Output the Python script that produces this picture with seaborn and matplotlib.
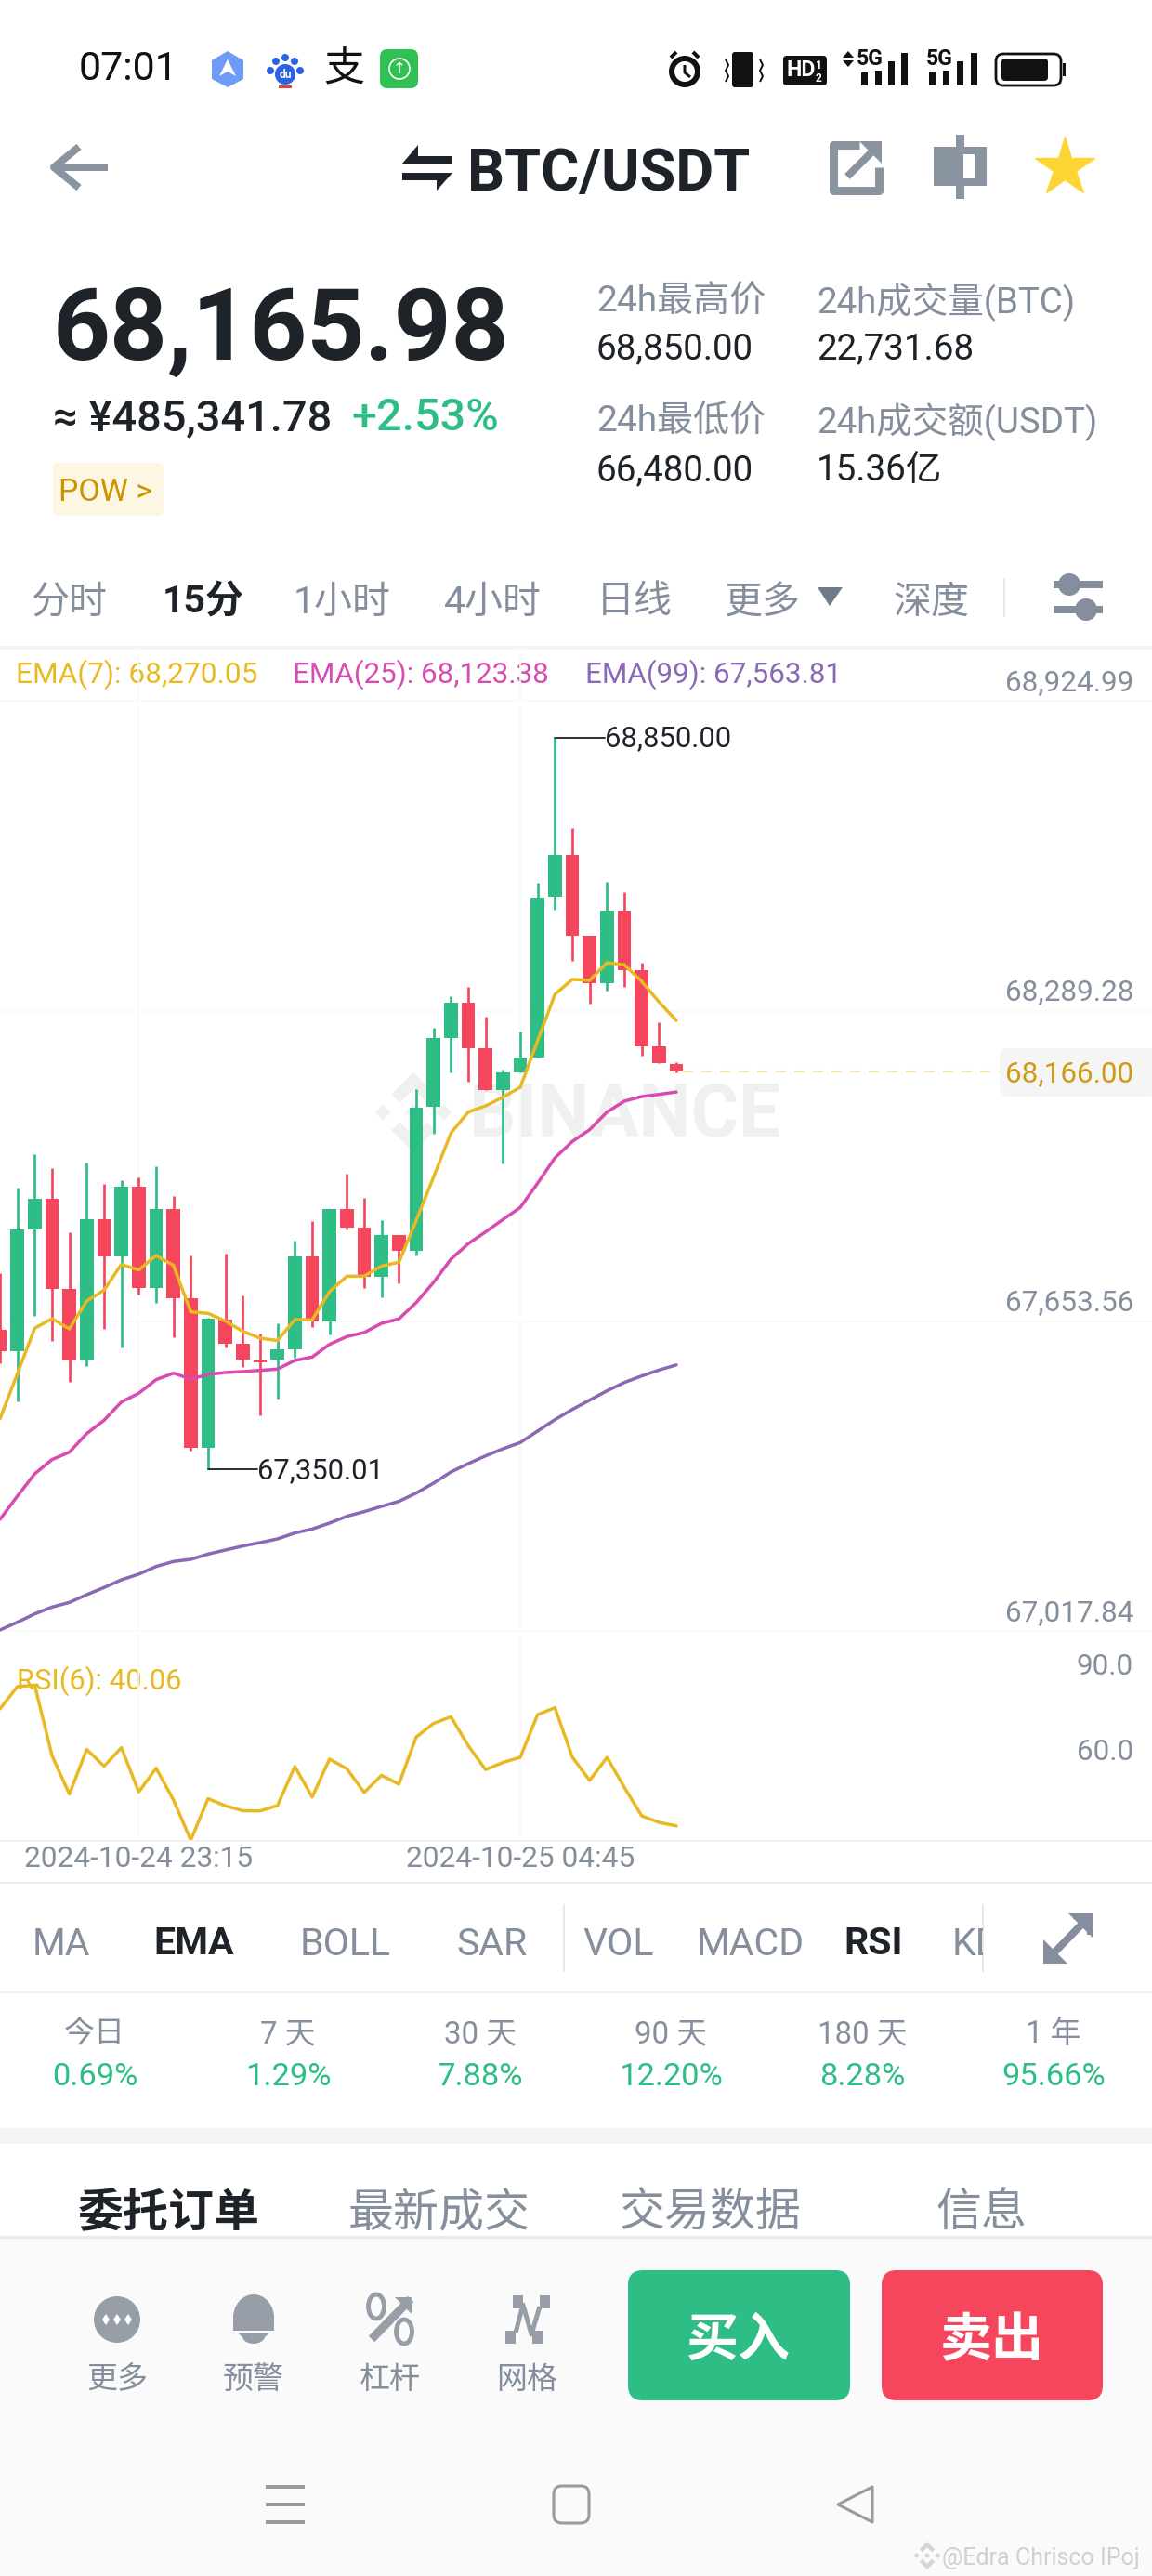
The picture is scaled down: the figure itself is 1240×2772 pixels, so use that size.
import numpy as np
import pandas as pd
import matplotlib
matplotlib.use("Agg")
import matplotlib.pyplot as plt
import seaborn as sns
from matplotlib.patches import Rectangle, Polygon, Circle, FancyBboxPatch, Ellipse

# ---------- data ----------
candle_top = [67635.9,67842.3,67904.5,67904.5,67720.3,67862.0,67862.0,67928.6,67928.6,67882.9,67882.9,67700.7,67658.1,67656.8,67606.7,67573.0,67595.9,67787.0,67787.0,67884.2,67884.2,67844.8,67830.8,67830.8,68091.8,68234.6,68307.0,68307.0,68212.4,68164.2,68193.4,68522.3,68608.7,68608.7,68442.9,68494.4,68494.4,68373.1,68217.5,68181.3]
candle_bot = [67592.1,67592.1,67842.3,67720.3,67572.4,67572.4,67785.8,67785.8,67721.6,67721.6,67700.7,67394.6,67394.6,67606.7,67574.3,67568.6,67574.3,67595.9,67653.7,67653.7,67844.8,67743.8,67743.8,67797.8,67797.8,68093.0,68234.6,68212.4,68128.0,68128.0,68164.2,68194.6,68523.6,68442.9,68345.8,68345.8,68373.1,68217.5,68181.9,68166.0]
highs = [67752.1,67927.4,67995.9,67968.0,67836.6,67978.0,67934.3,67942.0,67948.3,67970.5,67909.6,67788.9,67661.3,67792.1,67706.4,67628.3,67649.2,67818.8,67858.8,67884.2,67956.6,67906.4,67860.0,67830.8,68129.9,68255.0,68319.7,68338.8,68277.8,68169.9,68247.3,68551.5,68850.00,68664.5,68442.9,68554.1,68532.5,68387.7,68266.4,68183.8]
lows = [67567.9,67489.8,67664.5,67613.7,67529.8,67561.6,67638.4,67600.3,67707.6,67691.8,67620.0,67388.9,67350.01,67600.3,67559.7,67460.0,67495.6,67579.4,67642.2,67627.0,67841.6,67722.2,67703.2,67731.7,67788.9,68038.4,68163.6,68143.8,68128.0,67976.8,68164.2,68194.6,68496.9,68392.8,68303.9,68331.2,68338.8,68198.5,68181.9,68164.2]
is_up = [0,1,1,0,0,1,0,1,0,1,0,0,1,0,0,0,1,1,0,1,0,0,1,0,1,1,1,0,0,1,1,1,1,0,0,1,0,0,0,0]
ema7 = [67453.6,67545.7,67639.1,67658.8,67637.8,67694.9,67717.2,67769.9,67758.4,67788.3,67768.0,67672.7,67669.5,67653.7,67632.7,67618.7,67613.7,67656.8,67656.2,67714.0,67745.7,67745.7,67766.6,67774.3,67860.0,67948.9,68039.1,68082.2,68094.9,68112.7,68133.0,68228.3,68323.6,68354.1,68352.1,68388.3,68384.0,68350.2,68307.7,68270.05]
ema25 = [67247.2,67294.9,67340.6,67369.8,67385.0,67423.1,67450.4,67487.9,67505.7,67533.6,67546.9,67534.9,67544.4,67548.2,67550.1,67552.7,67555.2,67573.0,67580.0,67606.0,67621.9,67630.2,67649.2,67658.1,67691.7,67733.0,67780.6,67812.4,67836.6,67861.9,67886.7,67936.2,67988.3,68021.9,68046.1,68082.2,68104.5,68114.0,68118.4,68123.38]
ema99 = [67020.5,67036.4,67053.5,67067.5,67077.0,67092.9,67107.5,67123.4,67134.9,67150.7,67160.9,67165.3,67176.1,67184.4,67192.6,67199.6,67207.2,67219.3,67227.5,67239.6,67253.6,67263.1,67273.9,67284.1,67301.2,67321.5,67344.4,67361.5,67377.4,67392.0,67404.7,67428.2,67451.7,67472.6,67491.7,67510.7,67527.9,67541.2,67553.3,67563.81]
rsi6 = [81.1,88.9,89.4,64.7,51.2,66.9,61.0,67.5,52.0,60.3,49.2,35.1,49.6,47.1,45.4,45.3,47.2,60.9,50.2,63.5,60.1,51.8,57.8,54.7,71.2,76.0,78.3,68.2,59.8,62.3,64.1,79.1,81.5,64.2,56.0,64.1,53.6,43.6,41.3,40.06]
price_ticks = [68924.99, 68289.28, 67653.56, 67017.84]
last_price = 68166.00
high_price = 68850.00
low_price = 67350.01
rsi_ticks = [90.0, 60.0]
time_ticks = [8, 30]
time_labels = ["2024-10-24 23:15", "2024-10-25 04:45"]
tab_labels = ["分时", "15分", "1小时", "4小时", "日线", "更多", "深度"]
indicator_labels = ["MA", "EMA", "BOLL", "SAR", "VOL", "MACD", "RSI"]
period_labels = ["今日", "7 天", "30 天", "90 天", "180 天", "1 年"]
period_values = ["0.69%", "1.29%", "7.88%", "12.20%", "8.28%", "95.66%"]
section_labels = ["委托订单", "最新成交", "交易数据", "信息"]
tool_labels = ["更多", "预警", "杠杆", "网格"]

df = pd.DataFrame({"i": np.arange(len(ema7)), "ema7": ema7, "ema25": ema25, "ema99": ema99, "rsi": rsi6})

# ---------- style ----------
sns.set_theme(style="white")
FONT = ["Roboto", "Noto Sans CJK SC", "DejaVu Sans"]
CJK = ["Noto Sans CJK SC", "DejaVu Sans"]
plt.rcParams["font.family"] = FONT
GREEN, RED, DARK, GRAY = "#2ebd85", "#f6465d", "#1e2329", "#848e9c"
YEL, PINK, PUR = "#e8b923", "#d84bb0", "#8b68b5"
GRID = "#f8f9f9"
LW = 3.5 * 0.72

W, H = 1240, 2772
fig = plt.figure(figsize=(W / 100, H / 100), dpi=100, facecolor="white")
ui = fig.add_axes([0, 0, 1, 1], zorder=0)
ui.set_xlim(0, W); ui.set_ylim(H, 0); ui.axis("off")

def T(x, y, s, px, color=DARK, ha="left", weight="normal", family=None, ax=ui, **kw):
    y += 3
    if ha == "left":
        x -= 3
    return ax.text(x, y, s, fontsize=px * 0.72, color=color, ha=ha, va="center",
                   fontweight=weight, family=family or FONT, **kw)
def R(x0, y0, x1, y1, color, **kw):
    ui.add_patch(Rectangle((x0, y0), x1 - x0, y1 - y0, fc=color, ec="none", **kw))
def RR(x0, y0, x1, y1, color, r=8, ec="none", lw=0):
    ui.add_patch(FancyBboxPatch((x0 + r, y0 + r), x1 - x0 - 2 * r, y1 - y0 - 2 * r,
                 boxstyle=f"round,pad={r},rounding_size={r}", fc=color, ec=ec, lw=lw))
def P(pts, color, **kw):
    ui.add_patch(Polygon(pts, closed=True, fc=color, ec="none", **kw))
def L(xs, ys, color, lw=3, **kw):
    ui.plot(xs, ys, color=color, lw=lw * 0.72, solid_capstyle=kw.pop("cap", "butt"), **kw)
def logo(cx, cy, r, color):
    for sy in (-1, 1):
        P([(cx, cy + sy * r), (cx + .55 * r, cy + sy * .45 * r), (cx + .34 * r, cy + sy * .24 * r),
           (cx, cy + sy * .58 * r), (cx - .34 * r, cy + sy * .24 * r), (cx - .55 * r, cy + sy * .45 * r)], color)
    for dx in (-.76, 0, .76):
        q = cx + dx * r
        P([(q, cy - .2 * r), (q + .2 * r, cy), (q, cy + .2 * r), (q - .2 * r, cy)], color)

# ---------- status bar ----------
T(88, 72, "07:01", 43, "#111111")
P([(245, 55), (262, 65), (262, 85), (245, 94), (228, 85), (228, 65)], "#6f9bf6")
P([(245, 64), (254, 82), (245, 77), (236, 82)], "white")
for cx, cy, r in [(297, 66, 4), (317, 66, 4), (307, 62, 4), (291, 76, 4), (323, 76, 4)]:
    ui.add_patch(Circle((cx, cy), r, fc="#2a62e6", ec="none"))
ui.add_patch(Ellipse((307, 80), 22, 22, fc="#2a62e6", ec="none"))
T(307, 78, "du", 12, "white", ha="center", weight="bold")
R(300, 92, 314, 95, "#e04040")
T(370, 71, "支", 44, "#111111", ha="center", family=CJK)
RR(409, 53, 450, 95, "#2fc252", r=8)
ui.add_patch(Circle((430, 74), 11, fc="none", ec="white", lw=1.2))
T(430, 71, "↑", 17, "white", ha="center", family=["DejaVu Sans"])
# alarm
ui.add_patch(Circle((737, 77), 17, fc="#111111", ec="none"))
ui.add_patch(Circle((737, 77), 11, fc="white", ec="none"))
L([737, 737, 743], [70, 78, 83], "#111111", 3)
L([722, 728], [62, 56], "#111111", 4); L([752, 746], [62, 56], "#111111", 4)
# vibrate
RR(788, 56, 811, 94, "#111111", r=3)
for x0 in (781, 818):
    L([x0, x0 + 3, x0, x0 + 3, x0], [64, 70, 76, 82, 88], "#111111", 2)
# HD
RR(843, 60, 890, 92, "#111111", r=4)
T(850, 73, "HD", 23, "white", weight="bold")
T(881, 67, "1", 12, "white", weight="bold"); T(881, 81, "2", 12, "white", weight="bold")
# signal
for lab_x, bars in ((922, (930, 945, 959, 973)), (997, (1003, 1018, 1033, 1048))):
    T(lab_x + 3, 60, "5G", 23, "#111111", weight="bold")
    for bx, top in zip(bars, (78, 76, 66, 57)):
        R(bx - 3.5, top, bx + 3.5, 92, "#111111")
P([(907, 62), (913, 55), (919, 62)], "#111111"); P([(907, 65), (913, 72), (919, 65)], "#111111")
RR(1072, 58, 1142, 92, "white", r=8, ec="#111111", lw=2)
RR(1078, 63, 1128, 87, "#111111", r=4)
R(1144, 68, 1147, 82, "#111111")

# ---------- header ----------
L([116, 62], [180, 180], "#8a93a0", 8)
L([85, 58, 85], [158, 180, 202], "#8a93a0", 8)
P([(433, 176), (450, 156), (450, 168), (487, 168), (487, 176)], DARK)
P([(433, 186), (487, 186), (470, 205), (470, 194), (433, 194)], DARK)
T(506, 185, "BTC/USDT", 63, DARK, weight="bold")
# share
L([925, 897, 897, 946, 946], [156, 156, 205, 205, 180], "#8a93a0", 9)
L([912, 945], [190, 157], "#8a93a0", 8)
P([(925, 152), (949, 152), (949, 176)], "#8a93a0")
# candle
R(1005, 158, 1062, 200, "#8a93a0"); R(1029, 145, 1038, 214, "#8a93a0")
R(1037, 166, 1049, 192, "white")
ui.plot([1146], [180], marker="*", ms=48, color="#fcd535", mec="#fcd535")

T(60, 354, "68,165.98", 108, DARK, weight="bold")
T(60, 447, "≈ ¥485,341.78", 47, DARK, weight="medium")
T(381, 447, "+2.53%", 48.5, GREEN, weight="medium")
RR(57, 498, 176, 555, "#fdf6e3", r=6)
T(66, 527, "POW >", 34, "#c99400")
for x, y, s, c, px in [(645, 322, "24h最高价", GRAY, 39), (645, 373, "68,850.00", DARK, 38.5),
                       (645, 451, "24h最低价", GRAY, 39), (645, 504, "66,480.00", DARK, 38.5),
                       (882, 322, "24h成交量(BTC)", GRAY, 38.5), (882, 373, "22,731.68", DARK, 38.5),
                       (882, 451, "24h成交额(USDT)", GRAY, 38.5), (882, 504, "15.36亿", DARK, 38.5)]:
    T(x, y, s, px, c)

# ---------- timeframe tabs ----------
for x, s in zip([36, 178, 319, 481, 645, 782, 964], tab_labels):
    active = s == "15分"
    T(x, 645, s, 41, DARK if active else GRAY, weight="bold" if active else "normal")
P([(880, 632), (907, 632), (893, 652)], "#707a8a")
R(1080, 622, 1082, 664, "#e6e8ea")
R(1134, 625, 1187, 633, GRAY); R(1134, 652, 1187, 660, GRAY)
ui.add_patch(Circle((1151, 629), 12, fc=GRAY, ec="none")); ui.add_patch(Circle((1169, 656), 12, fc=GRAY, ec="none"))
R(0, 695, W, 699, "#f5f5f5")
T(20, 723, "EMA(7): 68,270.05", 31.6, YEL)
T(318, 723, "EMA(25): 68,123.38", 31.4, PINK)
T(633, 723, "EMA(99): 67,563.81", 31.4, PUR)

# watermark
logo(445, 1197, 43, "#eff1f1")
T(508, 1198, "BINANCE", 79, "#eff1f1", weight="bold")

# ---------- main price pane ----------
PX_PER_I = 18.667
def pane(top, bottom, ylim):
    a = fig.add_axes([0, 1 - bottom / H, 1, (bottom - top) / H], zorder=2)
    a.patch.set_alpha(0)
    a.set_xlim(0, W / PX_PER_I); a.set_ylim(*ylim)
    for s in a.spines.values():
        s.set_visible(False)
    return a

ax = pane(697, 1756, (67016.7, 69034.1))
ax.set_yticks(price_ticks); ax.set_xticks(time_ticks)
ax.tick_params(length=0, labelleft=False, labelbottom=False)
ax.grid(True, color=GRID, lw=1.2)
ax.set_axisbelow(True)
x_idx = df["i"].to_numpy()
wick_c = [GREEN if u else RED for u in is_up]
ax.vlines(x_idx, lows, highs, colors=wick_c, lw=2.7 * 0.72, zorder=3)
tops, bots = np.array(candle_top), np.array(candle_bot)
ax.bar(x_idx, tops - bots, bottom=bots, width=0.8, color=wick_c, lw=0, zorder=3)
for col, c, z in (("ema99", PUR, 4), ("ema25", PINK, 5), ("ema7", YEL, 6)):
    sns.lineplot(data=df, x="i", y=col, ax=ax, color=c, lw=LW, errorbar=None, estimator=None, zorder=z)
ax.set_xlim(0, W / PX_PER_I); ax.set_ylim(67016.7, 69034.1)
ax.set_xlabel(""); ax.set_ylabel("")
# leaders
ax.plot([32, 34.85], [high_price, high_price], color="#2b2f36", lw=1.4, zorder=7)
ax.plot([12, 14.85], [low_price, low_price], color="#2b2f36", lw=1.4, zorder=7)
for i_end, p in ((34.85, high_price), (14.85, low_price)):
    ax.annotate(f"{p:,.2f}", xy=(i_end, p), xytext=(0, -1), textcoords="offset points",
                ha="left", va="center", fontsize=31 * .72, color=DARK)
# last price
ax.plot([39.4, 1076 / PX_PER_I], [last_price, last_price], color="#f0dfae", lw=1.6, dashes=(5, 4), zorder=2)
RR(1076, 1128, 1244, 1180, "#f5f5f5", r=10)
ax.annotate(f"{last_price:,.2f}", xy=(1, last_price), xycoords=("axes fraction", "data"),
            xytext=(-20 * .72, -3 * .72), textcoords="offset points", ha="right", va="center",
            fontsize=31.5 * .72, color="#d09a12")
for p in price_ticks:
    ax.annotate(f"{p:,.2f}", xy=(1, p), xycoords=("axes fraction", "data"),
                xytext=(-20 * .72, 20 * .72), textcoords="offset points", ha="right", va="center",
                fontsize=31.5 * .72, color=GRAY)

# ---------- RSI pane ----------
ax2 = pane(1756, 1981, (34.8, 108.1))
ax2.spines["bottom"].set_visible(True); ax2.spines["bottom"].set_color("#f1f2f3"); ax2.spines["bottom"].set_linewidth(1.5)
sns.lineplot(data=df, x="i", y="rsi", ax=ax2, color=YEL, lw=LW, errorbar=None, estimator=None, clip_on=False)
ax2.set_xlim(0, W / PX_PER_I); ax2.set_ylim(34.8, 108.1)
ax2.set_xlabel(""); ax2.set_ylabel("")
ax2.set_yticks([])
ax2.set_xticks(time_ticks); ax2.set_xticklabels(time_labels, fontsize=31.6 * .72, color=GRAY)
ax2.tick_params(axis="x", length=0, pad=3.5)
ax2.grid(True, axis="x", color=GRID, lw=1.2)
ax2.set_axisbelow(True)
for v in rsi_ticks:
    ax2.annotate(f"{v:.1f}", xy=(1, v), xycoords=("axes fraction", "data"),
                 xytext=(-20 * .72, 18 * .72), textcoords="offset points", ha="right", va="center",
                 fontsize=31.5 * .72, color=GRAY)
T(21, 1806, "RSI(6): 40.06", 31, YEL)

# ---------- indicator row ----------
R(0, 2025, W, 2027, "#eceef0")
for x, s in zip([38, 168, 326, 494, 630, 753, 911], indicator_labels):
    active = s in ("EMA", "RSI")
    T(x, 2089, s, 41, DARK if active else GRAY, weight="bold" if active else "normal")
kt = T(1028, 2089, "KDJ", 41, GRAY)
clip = Rectangle((1020, 2050), 38, 75, transform=ui.transData)
kt.set_clip_path(clip); kt.set_clip_on(True)
R(606, 2049, 608, 2122, "#e6e8ea"); R(1057, 2049, 1059, 2122, "#e6e8ea")
# expand icon
L([1132, 1167], [2104, 2068], GRAY, 8)
R(1155, 2059, 1176, 2065, GRAY); R(1170, 2059, 1176, 2082, GRAY)
P([(1150, 2059), (1176, 2059), (1176, 2085)], GRAY)
P([(1123, 2113), (1149, 2113), (1123, 2087)], GRAY)
R(1140, 2082, 1150, 2090, "white")
R(0, 2143, W, 2145, "#eceef0")

for xc, lab, val in zip([102, 310, 517, 722, 928, 1134], period_labels, period_values):
    T(xc, 2186, lab, 33, GRAY, ha="center")
    T(xc, 2232, val, 34.5, GREEN, ha="center")
R(0, 2290, W, 2307, "#f5f5f5")
for x, s, c, w in zip([87, 378, 670, 1010], section_labels, [DARK, GRAY, GRAY, GRAY], ["bold", "medium", "medium", "medium"]):
    T(x, 2380, s, 49, c, weight=w)

# ---------- footer ----------
R(0, 2407, W, H, "#fafafa")
R(0, 2406, W, 2409, "#e8eaed")
IC = "#979ea8"
ui.add_patch(Circle((126, 2496), 25, fc=IC, ec="none"))
for dx in (-12, 0, 12):
    P([(126 + dx, 2490), (126 + dx + 4, 2496), (126 + dx, 2502), (126 + dx - 4, 2496)], "white")
ui.add_patch(Ellipse((273, 2494), 44, 50, fc=IC, ec="none"))
R(251, 2494, 295, 2508, IC)
ui.add_patch(Ellipse((273, 2514), 24, 16, fc=IC, ec="none"))
R(250, 2508, 296, 2510, "#fafafa")
L([400, 442], [2517, 2474], IC, 9)
P([(425, 2472), (443, 2472), (443, 2490)], IC)
for cx, cy in ((405, 2482), (435, 2509)):
    ui.add_patch(Ellipse((cx, cy), 17, 26, fc="#fafafa", ec=IC, lw=3.5))
for x0 in (544, 573):
    R(x0, 2508, x0 + 11, 2522, IC)
for x0 in (552, 581):
    R(x0, 2470, x0 + 11, 2484, IC)
L([555, 563, 572, 581], [2510, 2480, 2512, 2482], IC, 5)
for xc, s in zip([126, 273, 420, 567], tool_labels):
    T(xc, 2558, s, 33, GRAY, ha="center")
RR(676, 2443, 915, 2583, GREEN, r=16)
RR(949, 2443, 1187, 2583, RED, r=16)
T(795, 2517, "买入", 56, "white", ha="center", weight="bold")
T(1067, 2517, "卖出", 56, "white", ha="center", weight="bold")
NAV = "#9a9a9a"
for y in (2676, 2695, 2714):
    R(286, y - 2, 328, y + 2, NAV)
RR(596, 2675, 634, 2715, "none", r=9, ec=NAV, lw=2.2)
ui.add_patch(Polygon([(939, 2676), (902, 2695), (939, 2714)], closed=True, fc="none", ec=NAV, lw=2.2, joinstyle="round"))
logo(998, 2750, 15, "#d5d5d5")
T(1017, 2750, "@Edra Chrisco IPoj", 25, "#d0d0d0")

fig.savefig("out.png", dpi=100)
